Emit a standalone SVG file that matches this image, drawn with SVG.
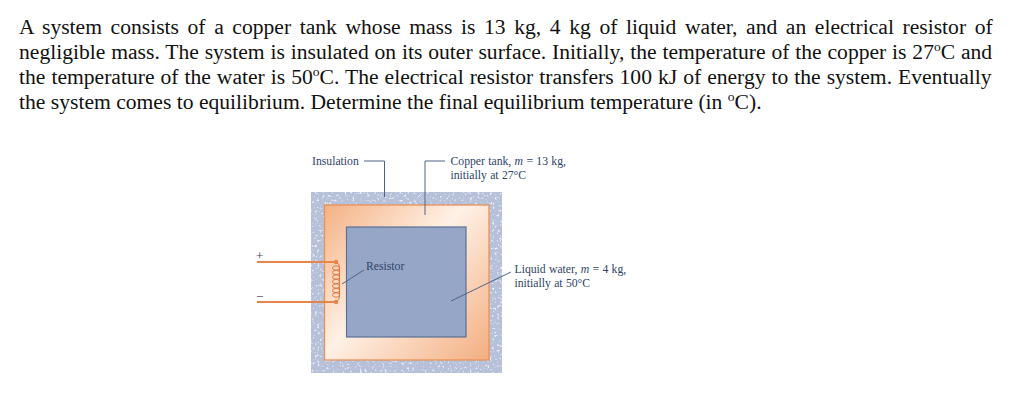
<svg xmlns="http://www.w3.org/2000/svg" width="1024" height="420" viewBox="0 0 1024 420">
<style>
.q{font-family:"Liberation Serif",serif;font-size:21.6px;fill:#111}
.s{font-size:13.5px}
.l{font-family:"Liberation Serif",serif;font-size:11.7px;word-spacing:.4px;fill:#2f4468}
.ld{fill:none;stroke:#4f6488;stroke-width:1}
.w{fill:none;stroke:#e8854a;stroke-width:1.8}
.c{fill:none;stroke:#dd7a40;stroke-width:1}
</style>
<defs>
<linearGradient id="cu" gradientUnits="userSpaceOnUse" x1="325" y1="205" x2="489" y2="360">
<stop offset="0" stop-color="#f3b184"/><stop offset=".45" stop-color="#fff1e6"/><stop offset="1" stop-color="#f3ae80"/>
</linearGradient>
<filter id="speck" x="0" y="0" width="100%" height="100%">
<feTurbulence type="fractalNoise" baseFrequency=".4" numOctaves="2" seed="4"/>
<feColorMatrix values="0 0 0 0 .85  0 0 0 0 .88  0 0 0 0 .93  5 0 0 0 -2.900"/>
<feComposite in2="SourceGraphic" operator="in" result="n"/>
<feMerge><feMergeNode in="SourceGraphic"/><feMergeNode in="n"/></feMerge>
</filter>
<filter id="soft"><feGaussianBlur stdDeviation=".4"/></filter>
</defs>
<rect width="1024" height="420" fill="#fff"/>
<g id="problem-text">
<text class="q" x="19" y="34" word-spacing="3.2">A system consists of a copper tank whose mass is 13 kg, 4 kg of liquid water, and an electrical resistor of</text>
<text class="q" x="19" y="59" word-spacing="0.45">negligible mass. The system is insulated on its outer surface. Initially, the temperature of the copper is 27<tspan class="s" dy="-8">o</tspan><tspan dy="8">C and</tspan></text>
<text class="q" x="19" y="84" word-spacing="0.6">the temperature of the water is 50<tspan class="s" dy="-8">o</tspan><tspan dy="8">C. The electrical resistor transfers 100 kJ of energy to the system. Eventually</tspan></text>
<text class="q" x="19" y="109">the system comes to equilibrium. Determine the final equilibrium temperature (in <tspan class="s" dy="-8">o</tspan><tspan dy="8">C).</tspan></text>
</g>
<g id="insulation" filter="url(#soft)"><rect x="311" y="192" width="191" height="181" fill="#b6c1d9" filter="url(#speck)"/></g>
<g id="copper-tank" filter="url(#soft)"><rect x="324.5" y="205" width="164.500" height="155" fill="url(#cu)" stroke="#e8925a" stroke-width="1.300"/></g>
<g id="liquid-water" filter="url(#soft)"><rect x="346.500" y="227" width="119.500" height="110" fill="#96a6c6" stroke="#5a7094" stroke-width="1.200"/></g>
<g id="connectors" filter="url(#soft)">
<path class="ld" d="M364 161H384.500V197"/>
<path class="ld" d="M445 161H425V215"/>
<path class="ld" d="M342 284L364 270"/>
<path class="ld" d="M511 272L451 301"/>
</g>
<g id="resistor" filter="url(#soft)">
<path class="w" d="M257 262H336M257 302H336"/>
<circle cx="336" cy="262" r="2.200" fill="#e8854a"/><circle cx="336" cy="302" r="2.200" fill="#e8854a"/>
<path class="c" d="M336 262Q340 264 339.500 268V296Q340 300 336 302"/>
<g class="c">
<ellipse cx="336" cy="268" rx="3.500" ry="2.200"/><ellipse cx="336" cy="272.500" rx="3.500" ry="2.200"/><ellipse cx="336" cy="277" rx="3.500" ry="2.200"/><ellipse cx="336" cy="281.500" rx="3.500" ry="2.200"/><ellipse cx="336" cy="286" rx="3.500" ry="2.200"/><ellipse cx="336" cy="290.500" rx="3.500" ry="2.200"/><ellipse cx="336" cy="295" rx="3.500" ry="2.200"/>
</g>
</g>
<g id="labels">
<text class="l" x="312" y="164.500">Insulation</text>
<text class="l" x="450.500" y="164.500">Copper tank, <tspan font-style="italic">m</tspan> = 13 kg,</text>
<text class="l" x="450.500" y="178.500">initially at 27°C</text>
<text class="l" x="366" y="270">Resistor</text>
<text class="l" x="514.500" y="272.500">Liquid water, <tspan font-style="italic">m</tspan> = 4 kg,</text>
<text class="l" x="514.500" y="286.500">initially at 50°C</text>
<text class="l" x="256" y="260" style="font-size:13px">+</text>
<text class="l" x="256" y="301" style="font-size:13px">−</text>
</g>
</svg>
